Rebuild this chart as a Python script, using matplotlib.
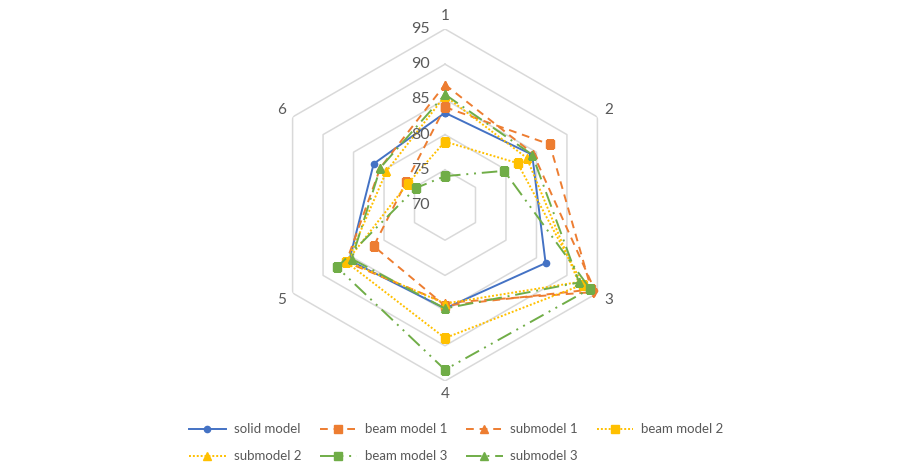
import numpy as np
import matplotlib
matplotlib.use("Agg")
import matplotlib.pyplot as plt
from matplotlib.transforms import offset_copy

plt.rcParams["font.family"] = ["Lato", "DejaVu Sans"]

# Categories (radar axes) and ring levels
categories = ["1", "2", "3", "4", "5", "6"]
ring_levels = [70, 75, 80, 85, 90, 95]

# Series values
solid_model = [83.1, 84.3, 86.5, 84.7, 85.7, 81.7]
beam_model_1 = [83.9, 87.2, 94.0, 84.3, 81.7, 76.4]
submodel_1 = [87.1, 84.5, 94.7, 83.9, 86.2, 80.6]
beam_model_2 = [79.0, 81.9, 92.6, 88.9, 86.2, 76.1]
submodel_2 = [85.5, 83.4, 91.9, 84.0, 86.0, 79.6]
beam_model_3 = [74.1, 79.7, 93.8, 93.4, 87.7, 74.8]
submodel_3 = [85.7, 84.3, 92.0, 84.7, 85.3, 80.6]

BLUE = "#4472C4"
ORANGE = "#ED7D31"
YELLOW = "#FFC000"
GREEN = "#70AD47"
GRAY_TXT = "#595959"

series = [
    ("solid model", solid_model, BLUE, "-", "o", 4.5),
    ("beam model 1", beam_model_1, ORANGE, (0, (4, 3)), "s", 5.5),
    ("submodel 1", submodel_1, ORANGE, (0, (4, 3)), "^", 6.0),
    ("beam model 2", beam_model_2, YELLOW, (0, (1, 1)), "s", 5.5),
    ("submodel 2", submodel_2, YELLOW, (0, (1, 1)), "^", 6.0),
    ("beam model 3", beam_model_3, GREEN, (0, (8, 3, 1, 3, 1, 3)), "s", 5.5),
    ("submodel 3", submodel_3, GREEN, (0, (8, 3, 1, 3)), "^", 6.0),
]

fig = plt.figure(figsize=(9.2, 4.65), dpi=100)
ax = fig.add_axes([269 / 920, 84 / 465, 352 / 920, 352 / 465], projection="polar")
ax.set_theta_offset(np.pi / 2)
ax.set_theta_direction(-1)
ax.set_ylim(ring_levels[0], ring_levels[-1])

angles = np.linspace(0, 2 * np.pi, len(categories), endpoint=False)
closed = np.append(angles, angles[0])

# Hexagonal grid rings
ax.grid(False)
ax.spines["polar"].set_visible(False)
for lv in ring_levels[1:]:
    ax.plot(closed, [lv] * len(closed), color="#D9D9D9", lw=1.1, zorder=0)

handles = []
for name, vals, color, ls, mk, ms in series:
    v = list(vals) + [vals[0]]
    (ln,) = ax.plot(closed, v, color=color, linestyle=ls, lw=1.4,
                    marker=mk, markersize=ms, markeredgecolor=color,
                    markerfacecolor=color, label=name)
    handles.append(ln)

# Category labels
ax.set_xticks(angles)
ax.set_xticklabels(categories, fontsize=11, color=GRAY_TXT)
ax.tick_params(axis="x", pad=-1)
ax.set_yticks([])

# Ring value labels to the left of axis 1
trans = offset_copy(ax.transData, fig=fig, x=-15, y=0, units="dots")
for lv in ring_levels:
    ax.text(0, lv, str(lv), transform=trans, ha="right", va="center",
            fontsize=11.5, color=GRAY_TXT)

# Legend: row-major order for 4 columns
order = [0, 4, 1, 5, 2, 6, 3]
leg = fig.legend([handles[i] for i in order],
                 [series[i][0] for i in order],
                 loc="lower center", bbox_to_anchor=(0.496, -0.02), ncol=4,
                 frameon=False, fontsize=9.5, handlelength=2.8, numpoints=1,
                 columnspacing=1.4, handletextpad=0.6, labelspacing=1.15)
for t in leg.get_texts():
    t.set_color(GRAY_TXT)

fig.savefig("out.png", dpi=100)
